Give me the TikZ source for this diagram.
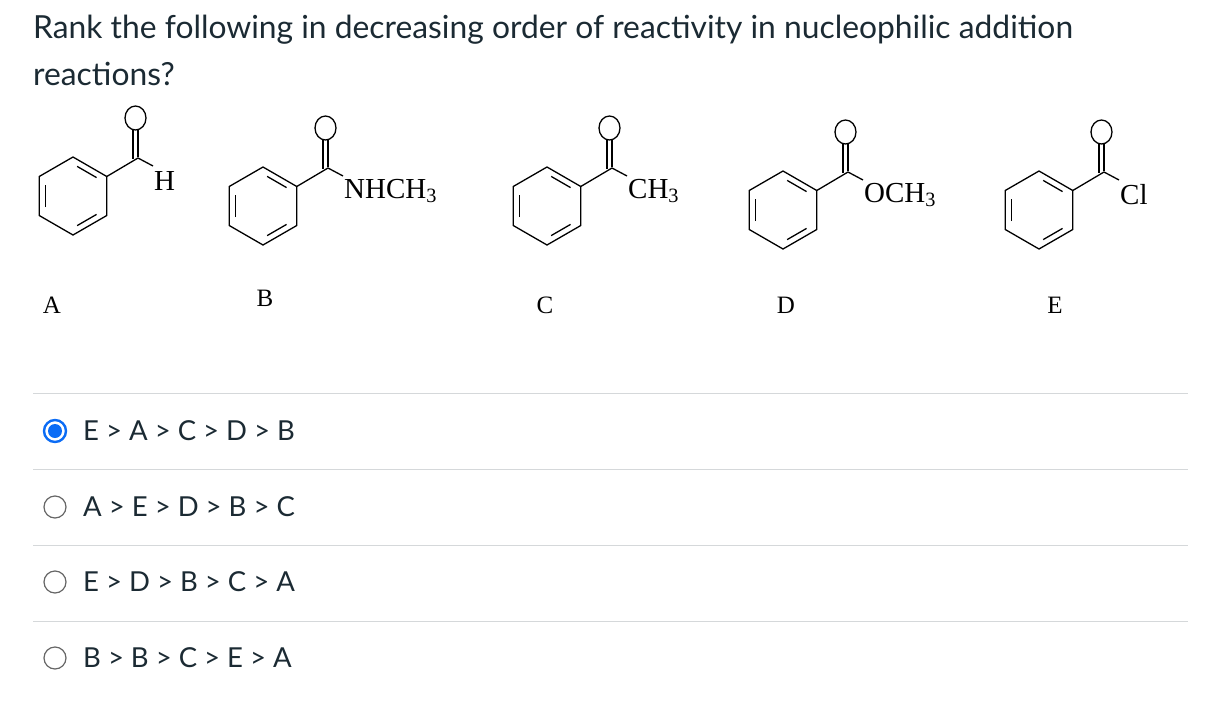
\documentclass[tikz,border=0pt]{standalone}
\usepackage{fontspec}
\setmainfont{Lato}
\newfontfamily\chemfont{Liberation Serif}
\usetikzlibrary{calc}
\definecolor{txt}{HTML}{1B2A33}
\definecolor{sel}{HTML}{0B6CF5}
\definecolor{sep}{HTML}{D5D8DA}
\tikzset{
  bond/.style={line width=1.3pt,black},
  chem/.style={font=\chemfont\fontsize{29}{29}\selectfont,inner sep=0pt},
  lbl/.style={font=\chemfont\fontsize{25}{25}\selectfont,inner sep=0pt},
  opt/.style={font=\fontsize{27.5}{27.5}\selectfont,text=txt,anchor=west,inner sep=0pt},
  radio/.style={draw=gray!80!black,line width=1.2pt,fill=white},
  sepline/.style={draw=sep,line width=1pt}
}
\newcommand\benzoyl[4]{%
\begin{scope}[shift={(#1,#2)}]
  \coordinate (#4c) at (73,196);
  \foreach \a/\n in {-90/1,-30/2,30/3,90/4,150/5,210/6}{
    \coordinate (#4v\n) at ($(#4c)+(\a:39)$);
    \coordinate (#4i\n) at ($(#4c)+(\a:32)$);
  }
  \draw[bond] (#4v1)--(#4v2)--(#4v3)--(#4v4)--(#4v5)--(#4v6)--cycle;
  \draw[bond] ($(#4i1)!0.15!(#4i2)$)--($(#4i1)!0.85!(#4i2)$);
  \draw[bond] ($(#4i3)!0.15!(#4i4)$)--($(#4i3)!0.85!(#4i4)$);
  \draw[bond] ($(#4i5)!0.15!(#4i6)$)--($(#4i5)!0.85!(#4i6)$);
  \coordinate (#4k) at (138,158);
  \draw[bond] (#4v2)--(#4k)--(153,166);
  \draw[bond] (138,157)--(138,130);
  \draw[bond] (133,159)--(133,130);
  \draw[bond] (135.5,118) ellipse (10.5 and 12);
  \node[chem,anchor=west] (#4s) at (154,181) {#3};
\end{scope}}
\begin{document}
\begin{tikzpicture}[x=1pt,y=-1pt]
\useasboundingbox (0,0) rectangle (1208,726);
\node[anchor=base west,inner sep=0pt,text=txt,font=\fontsize{31.8}{31.8}\selectfont] (q1) at (33,38) {Rank the following in decreasing order of reactivity in nucleophilic addition};
\node[anchor=base west,inner sep=0pt,text=txt,font=\fontsize{31.8}{31.8}\selectfont] (q2) at (33,85) {reactions?};
\benzoyl{0}{0}{H}{a}
\benzoyl{190}{10}{NHCH\textsubscript{3}}{b}
\benzoyl{474}{10}{CH\textsubscript{3}}{c}
\benzoyl{710}{14}{OCH\textsubscript{3}}{d}
\benzoyl{966}{14}{Cl}{e}
\node[lbl] (la) at (52,305) {A};
\node[lbl] (lb) at (265,298) {B};
\node[lbl] (lc) at (545,305) {C};
\node[lbl] (ld) at (786,305) {D};
\node[lbl] (le) at (1055,305) {E};
\foreach \y in {393,469,545,621}{\draw[sepline] (33,\y)--(1188,\y);}
\draw[sel,line width=2.4pt,fill=white] (55,431) circle (11);
\fill[sel] (55,431) circle (7);
\node[opt] (o1) at (83,431) {E > A > C > D > B};
\draw[radio] (55,507) circle (11);
\node[opt] (o2) at (83,507) {A > E > D > B > C};
\draw[radio] (55,582) circle (11);
\node[opt] (o3) at (83,582) {E > D > B > C > A};
\draw[radio] (55,658) circle (11);
\node[opt] (o4) at (83,658) {B > B > C > E > A};
\end{tikzpicture}
\end{document}
